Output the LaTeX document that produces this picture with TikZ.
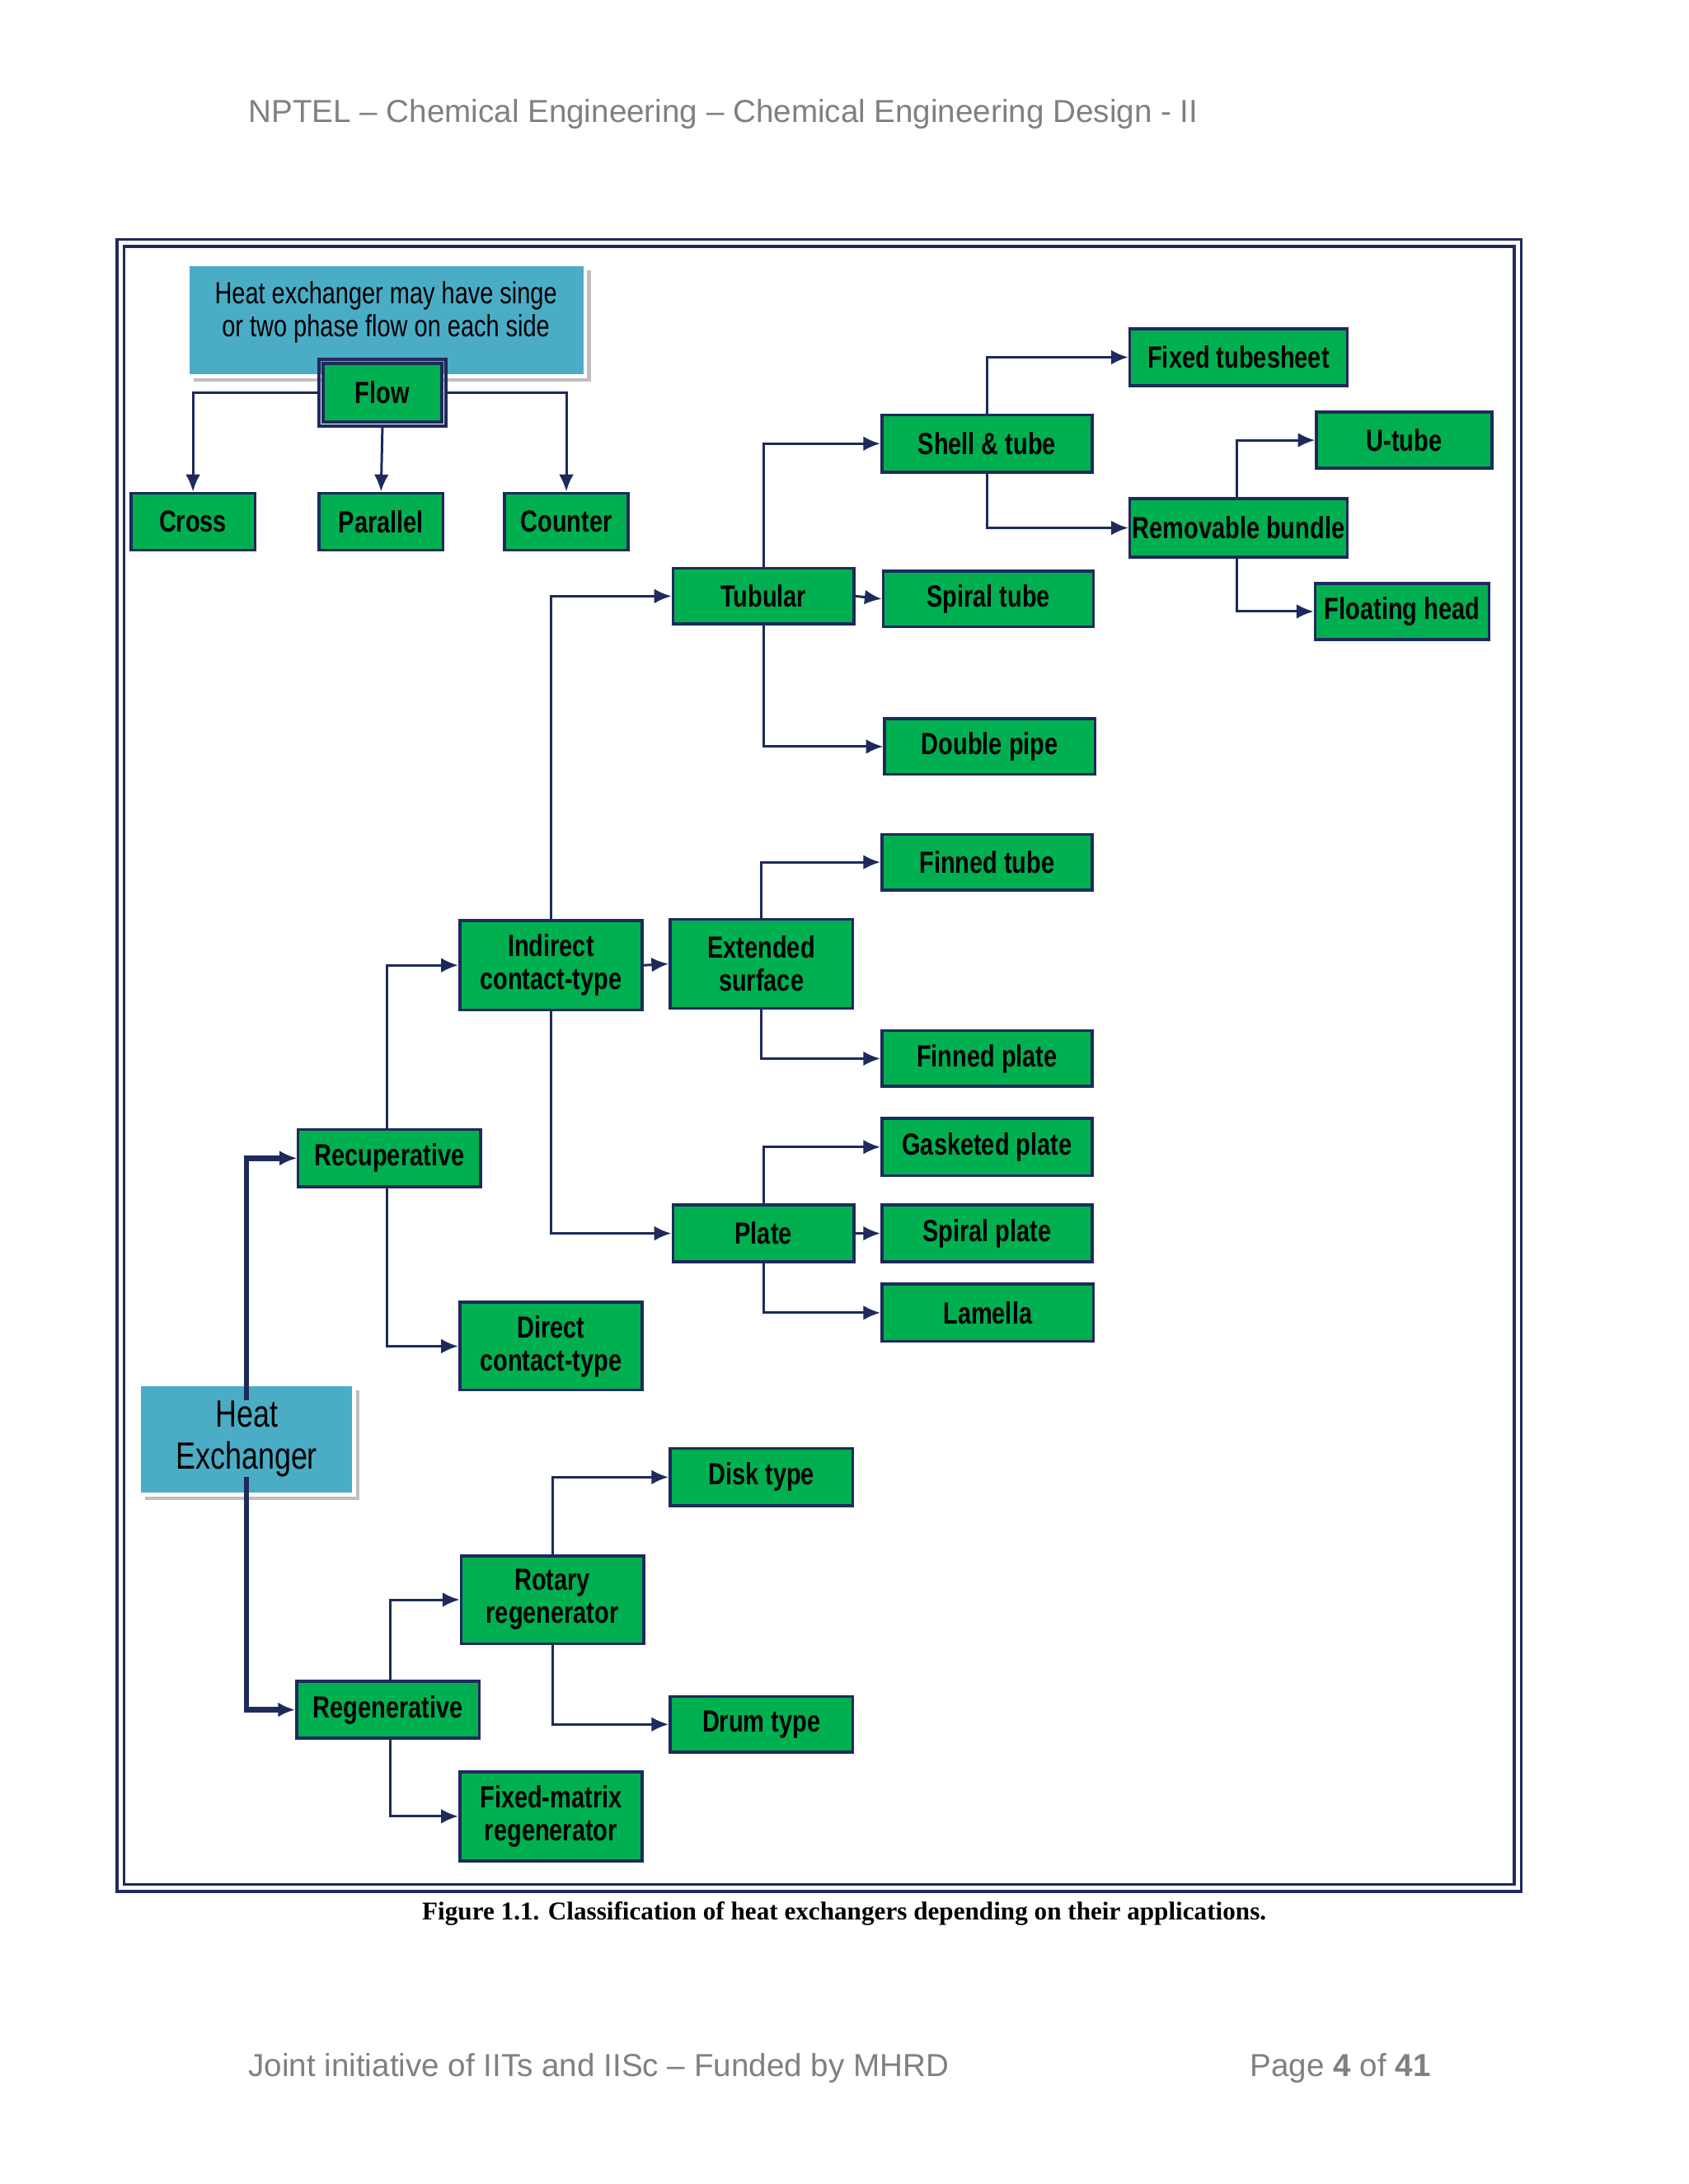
\documentclass[tikz,border=0pt]{standalone}
\usepackage{fontspec}
\setmainfont{Liberation Serif}
\setsansfont[FakeStretch=0.78]{Liberation Sans}
\usetikzlibrary{arrows.meta}
\definecolor{boxgreen}{HTML}{00B050}
\definecolor{navy}{HTML}{1F2A5C}
\definecolor{skyblue}{HTML}{4BACC6}
\definecolor{pagegray}{HTML}{808080}
\tikzset{
  box/.style={draw=navy, line width=1.2pt, fill=boxgreen, align=center,
    font=\sffamily\bfseries\fontsize{12.5}{13.5}\selectfont, inner sep=0pt},
  bluebox/.style={fill=skyblue, align=center, inner sep=0pt,
    font=\sffamily\fontsize{12.5}{13.5}\selectfont},
  link/.style={draw=navy, line width=1pt, -{Latex[length=7pt,width=6pt]}},
  thick link/.style={link, line width=2.2pt}
}
\newcommand{\bx}[6]{\node[box, minimum width=#4*0.02cm, minimum height=#5*0.02cm] (#1) at (#2,#3) {#6};}
\begin{document}
\begin{tikzpicture}[x=0.02cm, y=-0.02cm]
\useasboundingbox (0,0) rectangle (1212,1568);
\fill[white] (0,0) rectangle (1212,1568);
% page header and footer
\node[anchor=west, text=pagegray, font=\sffamily\fontsize{13}{15}\selectfont, inner sep=0pt] (head) at (178,82)
  {\addfontfeature{FakeStretch=1}NPTEL -- Chemical Engineering -- Chemical Engineering Design - II};
\node[anchor=west, text=pagegray, font=\sffamily\fontsize{13}{15}\selectfont, inner sep=0pt] (foot) at (178,1485)
  {\addfontfeature{FakeStretch=1}Joint initiative of IITs and IISc -- Funded by MHRD};
\node[anchor=west, text=pagegray, font=\sffamily\fontsize{13}{15}\selectfont, inner sep=0pt] (page) at (897,1485)
  {\addfontfeature{FakeStretch=1}Page \textbf{4} of \textbf{41}};
% outer frame
\draw[navy, line width=1.2pt] (84,172) rectangle (1092,1358);
\draw[navy, line width=1.2pt] (89,177) rectangle (1087,1353);
\node[font=\bfseries\fontsize{10.5}{12}\selectfont, inner sep=0pt] (caption) at (606,1374)
  {Figure 1.1. Classification of heat exchangers depending on their applications.};
% blue boxes with shadow
\fill[black!25] (139,194) rectangle (424,274);
\draw[white, line width=1.5pt, fill=skyblue] (135,190) rectangle (420,270);
\node[bluebox, fill=none] (note) at (277,224) {Heat exchanger may have singe\\or two phase flow on each side};
\fill[black!25] (104,998) rectangle (258,1077);
\draw[white, line width=1.5pt, fill=skyblue] (100,994) rectangle (254,1073);
\node[bluebox, fill=none, font=\sffamily\fontsize{15.5}{17}\selectfont] (hx) at (177,1033) {Heat\\Exchanger};
% flow boxes
\node[draw=navy, line width=1.2pt, minimum width=91*0.02cm, minimum height=48*0.02cm] (flowframe) at (274.5,282) {};
\bx{flow}{274.5}{282}{85}{42}{Flow}
\bx{cross}{138.5}{374.5}{89}{41}{Cross}
\bx{parallel}{273.5}{374.5}{89}{41}{Parallel}
\bx{counter}{406.5}{374.5}{89}{41}{Counter}
% tubular branch
\bx{fixed}{889}{256.5}{156}{41}{Fixed tubesheet}
\bx{shell}{708.5}{318.5}{151}{41}{Shell \& tube}
\bx{utube}{1008}{316}{126}{40}{U-tube}
\bx{removable}{889}{379}{156}{42}{Removable bundle}
\bx{tubular}{548}{428}{130}{40}{Tubular}
\bx{spiraltube}{709.5}{430}{151}{40}{Spiral tube}
\bx{floating}{1006.5}{439}{125}{40}{Floating head}
\bx{doublepipe}{710.5}{536}{151}{40}{Double pipe}
\bx{finnedtube}{708.5}{619}{151}{40}{Finned tube}
\bx{indirect}{395.5}{693}{131}{64}{Indirect\\contact-type}
\bx{extended}{546.5}{692}{131}{64}{Extended\\surface}
\bx{finnedplate}{708.5}{760}{151}{40}{Finned plate}
\bx{gasketed}{708.5}{823.5}{151}{41}{Gasketed plate}
\bx{recup}{279.5}{831.5}{131}{41}{Recuperative}
\bx{plate}{548}{885.5}{130}{41}{Plate}
\bx{spiralplate}{708.5}{885.5}{151}{41}{Spiral plate}
\bx{lamella}{709}{942.5}{152}{41}{Lamella}
\bx{direct}{395.5}{966.5}{131}{63}{Direct\\contact-type}
% regenerative branch
\bx{disk}{546.5}{1060.5}{131}{41}{Disk type}
\bx{rotary}{396.5}{1148.5}{131}{63}{Rotary\\regenerator}
\bx{drum}{546.5}{1238}{131}{40}{Drum type}
\bx{regen}{278.5}{1227.5}{131}{41}{Regenerative}
\bx{matrix}{395.5}{1304}{131}{64}{Fixed-matrix\\regenerator}
% connectors
\draw[link] (flowframe.west) -| (cross.north);
\draw[link] (flowframe.south) -- (parallel.north);
\draw[link] (flowframe.east) -| (counter.north);
\draw[link] (hx.north) |- (recup.west);
\draw[thick link] (hx.north) |- (recup.west);
\draw[thick link] (hx.south) |- (regen.west);
\draw[link] (recup.north -| 278,0) |- (indirect.west);
\draw[link] (recup.south -| 278,0) |- (direct.west);
\draw[link] (regen.north -| 280,0) |- (rotary.west);
\draw[link] (regen.south -| 280,0) |- (matrix.west);
\draw[link] (rotary.north) |- (disk.west);
\draw[link] (rotary.south) |- (drum.west);
\draw[link] (indirect.north) |- (tubular.west);
\draw[link] (indirect.east) -- (extended.west);
\draw[link] (indirect.south) |- (plate.west);
\draw[link] (tubular.north) |- (shell.west);
\draw[link] (tubular.east) -- (spiraltube.west);
\draw[link] (tubular.south) |- (doublepipe.west);
\draw[link] (shell.north) |- (fixed.west);
\draw[link] (shell.south) |- (removable.west);
\draw[link] (removable.north -| 888,0) |- (utube.west);
\draw[link] (removable.south -| 888,0) |- (floating.west);
\draw[link] (extended.north) |- (finnedtube.west);
\draw[link] (extended.south) |- (finnedplate.west);
\draw[link] (plate.north) |- (gasketed.west);
\draw[link] (plate.east) -- (spiralplate.west);
\draw[link] (plate.south) |- (lamella.west);
\end{tikzpicture}
\end{document}
